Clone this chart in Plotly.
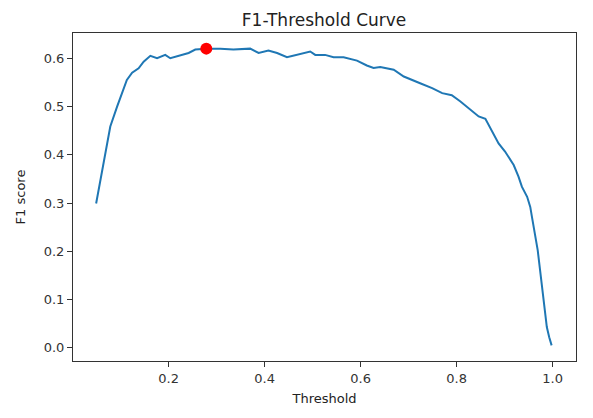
import plotly.graph_objects as go

thresholds = [0.049, 0.058, 0.068, 0.0785, 0.0925, 0.103, 0.113, 0.124, 0.1375, 0.148,
              0.162, 0.176, 0.193, 0.2035, 0.228, 0.2417, 0.2556, 0.2785, 0.3077, 0.335,
              0.37, 0.3875, 0.408, 0.426, 0.4467, 0.4675, 0.495, 0.5056, 0.526, 0.5437,
              0.5646, 0.5925, 0.613, 0.627, 0.641, 0.669, 0.69, 0.724, 0.749, 0.77,
              0.79, 0.808, 0.8285, 0.846, 0.86, 0.874, 0.8875, 0.901, 0.919, 0.929,
              0.936, 0.947, 0.9535, 0.957, 0.964, 0.969, 0.974, 0.978, 0.983, 0.988,
              0.993, 0.998]
f1_scores = [0.299, 0.348, 0.41, 0.459, 0.50, 0.528, 0.556, 0.571, 0.58, 0.594,
             0.606, 0.601, 0.608, 0.601, 0.608, 0.612, 0.619, 0.621, 0.621, 0.619,
             0.621, 0.612, 0.617, 0.612, 0.603, 0.608, 0.615, 0.608, 0.608, 0.603,
             0.603, 0.596, 0.586, 0.581, 0.583, 0.577, 0.563, 0.549, 0.539, 0.5285,
             0.524, 0.511, 0.494, 0.48, 0.475, 0.45, 0.424, 0.407, 0.379, 0.355,
             0.334, 0.313, 0.292, 0.271, 0.23, 0.202, 0.16, 0.126, 0.084, 0.042,
             0.021, 0.004]
best_threshold = [0.2785]
best_f1 = [0.621]

x_ticks = [0.2, 0.4, 0.6, 0.8, 1.0]
y_ticks = [0.0, 0.1, 0.2, 0.3, 0.4, 0.5, 0.6]

font = "DejaVu Sans"
fig = go.Figure()
fig.add_trace(go.Scatter(x=thresholds, y=f1_scores, mode="lines",
                         line=dict(color="#1f77b4", width=2), showlegend=False))
fig.add_trace(go.Scatter(x=best_threshold, y=best_f1, mode="markers",
                         marker=dict(color="red", size=12), showlegend=False))

axis_common = dict(showgrid=False, zeroline=False, showline=True, mirror=True,
                   linecolor="#333333", linewidth=1, ticks="outside", ticklen=5,
                   tickcolor="#333333", tickfont=dict(family=font, size=13, color="#333333"))
fig.update_layout(
    width=593, height=418,
    margin=dict(l=73, r=17, t=33, b=57),
    plot_bgcolor="white", paper_bgcolor="white",
    title=dict(text="F1-Threshold Curve", x=0.5465, xanchor="center", y=0.952, yanchor="middle",
               font=dict(family=font, size=17, color="#222222")),
    xaxis=dict(range=[0.0008, 1.0488], tickvals=x_ticks, tickformat=".1f",
               title=dict(text="Threshold", font=dict(family=font, size=13, color="#222222"), standoff=9),
               **axis_common),
    yaxis=dict(range=[-0.0285, 0.6535], tickvals=y_ticks, tickformat=".1f",
               title=dict(text="F1 score", font=dict(family=font, size=13, color="#222222"), standoff=15),
               **axis_common),
)
fig.write_html("out.html")
